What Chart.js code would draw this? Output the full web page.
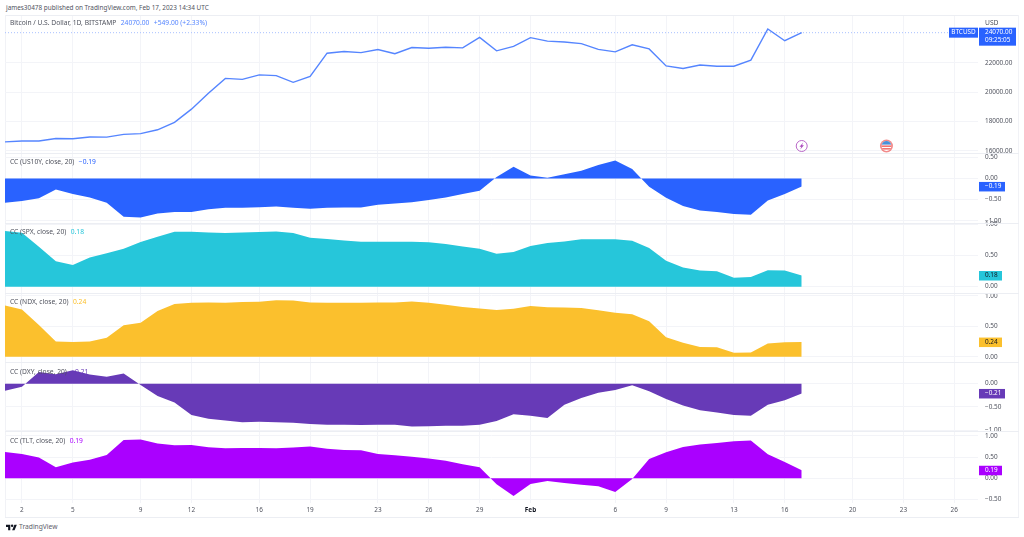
<!DOCTYPE html>
<html>
<head>
<meta charset="utf-8">
<title>BTCUSD correlation panes</title>
<script src="https://cdn.jsdelivr.net/npm/chart.js@4"></script>
<style>
  html, body { margin: 0; padding: 0; background: #fff; overflow: hidden; }
  #page { position: relative; width: 1024px; height: 537px; font-family: "Noto Sans", sans-serif; color: #50535e; }
  #page canvas { position: absolute; left: 5px; }
  .txt { position: absolute; white-space: nowrap; font-size: 6.7px; line-height: 10px; }
  .txt span { margin-left: 4.5px; }
  .sep { position: absolute; left: 5px; width: 1014px; height: 1px; background: #eceef3; }
  .edge { position: absolute; top: 15px; width: 1px; height: 502px; background: #f1f2f6; }
</style>
</head>
<body>
<div id="page">
  <div class="txt" style="left:6px;top:3px;font-size:6.4px">james30478 published on TradingView.com, Feb 17, 2023 14:34 UTC</div>
  <div class="sep" style="top:15px"></div>
  <div class="sep" style="top:517px"></div>
  <div class="edge" style="left:5px"></div>
  <div class="edge" style="left:1018px"></div>
  <svg style="position:absolute;left:6px;top:523.5px" width="11" height="7" viewBox="0 3 36 20"><path fill="#131722" d="M14 22H7V11H0V4h14v18zM28 22h-8l7.5-18h8L28 22z"/><circle fill="#131722" cx="20" cy="7" r="4"/></svg>
  <div class="txt" style="left:19px;top:522px;color:#5d606b">TradingView</div>
</div>

<script>
// first entry of every series is Jan 1 2023, one close per calendar day up to Feb 17
const btcClose = [16615, 16672, 16675, 16850, 16830, 16950, 16943, 17127, 17180, 17440, 17945, 18850,
  19930, 20950, 20880, 21190, 21140, 20680, 21080, 22670, 22780, 22710, 22920, 22630, 23060, 23010,
  23080, 23030, 23750, 22830, 23130, 23730, 23490, 23430, 23320, 22930, 22760, 23240, 22960, 21800,
  21630, 21860, 21780, 21780, 22200, 24320, 23520, 24070];
const ccUs10y = [-0.575, -0.535, -0.47, -0.26, -0.37, -0.45, -0.575, -0.905, -0.92, -0.83, -0.795, -0.795,
  -0.725, -0.69, -0.69, -0.68, -0.66, -0.69, -0.715, -0.69, -0.685, -0.685, -0.62, -0.59, -0.56, -0.51,
  -0.45, -0.37, -0.29, 0.03, 0.275, 0.07, 0.015, 0.10, 0.18, 0.315, 0.42, 0.22, -0.195, -0.455,
  -0.65, -0.755, -0.795, -0.84, -0.86, -0.52, -0.37, -0.19];
const ccSpx = [0.90, 0.87, 0.645, 0.41, 0.35, 0.47, 0.54, 0.61, 0.72, 0.805, 0.885, 0.885,
  0.875, 0.865, 0.875, 0.88, 0.89, 0.865, 0.79, 0.77, 0.745, 0.725, 0.725, 0.725, 0.725, 0.715,
  0.69, 0.65, 0.61, 0.53, 0.56, 0.655, 0.705, 0.73, 0.765, 0.765, 0.765, 0.74, 0.625, 0.42,
  0.31, 0.26, 0.25, 0.145, 0.155, 0.265, 0.26, 0.18];
const ccNdx = [0.84, 0.775, 0.52, 0.25, 0.24, 0.25, 0.31, 0.515, 0.555, 0.75, 0.865, 0.885,
  0.89, 0.885, 0.895, 0.90, 0.925, 0.92, 0.89, 0.885, 0.885, 0.885, 0.89, 0.89, 0.905, 0.885,
  0.85, 0.815, 0.79, 0.765, 0.785, 0.83, 0.81, 0.805, 0.80, 0.76, 0.72, 0.695, 0.58, 0.32,
  0.23, 0.16, 0.155, 0.065, 0.07, 0.215, 0.235, 0.24];
const ccDxy = [-0.15, -0.065, 0.25, 0.205, 0.29, 0.195, 0.15, 0.22, -0.03, -0.265, -0.405, -0.67,
  -0.755, -0.79, -0.83, -0.82, -0.83, -0.84, -0.865, -0.88, -0.88, -0.885, -0.88, -0.88, -0.92, -0.915,
  -0.905, -0.905, -0.88, -0.80, -0.655, -0.69, -0.735, -0.45, -0.305, -0.195, -0.135, -0.035, -0.165, -0.33,
  -0.47, -0.57, -0.62, -0.67, -0.69, -0.455, -0.355, -0.21];
const ccTlt = [0.62, 0.575, 0.49, 0.26, 0.37, 0.435, 0.55, 0.905, 0.915, 0.82, 0.78, 0.785,
  0.73, 0.71, 0.715, 0.715, 0.71, 0.725, 0.75, 0.695, 0.67, 0.66, 0.575, 0.545, 0.51, 0.47,
  0.415, 0.33, 0.26, -0.14, -0.415, -0.135, -0.065, -0.11, -0.15, -0.19, -0.325, -0.015, 0.455, 0.615,
  0.74, 0.795, 0.835, 0.875, 0.89, 0.565, 0.385, 0.19];

// day offsets from Jan 1 and what the time axis prints there
const tickDays = [1, 4, 8, 11, 15, 18, 22, 25, 28, 31, 36, 39, 43, 46, 50, 53, 56];
const tickLabels = ["2", "5", "9", "12", "16", "19", "23", "26", "29", "Feb", "6", "9", "13", "16", "20", "23", "26"];
const btcTicks = [16000, 18000, 20000, 22000];

const FONT = "Noto Sans";
const FEB = 31;
const LAST_DAY = 57.4;
const PAD = 8;
const TICK_COLOR = "#50535e";
const GRID_COLOR = "#f3f4f8";

const panes = [
  { top: 16, bottom: 153, min: 15857, max: 25208, ticks: btcTicks, values: btcClose, color: "#5585ff", line: true },
  { top: 154, bottom: 223, min: -1.052, max: 0.575, ticks: [-1, -0.5, 0, 0.5], values: ccUs10y, color: "#2962ff",
    name: "CC (US10Y, close, 20)", legendTop: 157, tagText: "#fff", tagWidth: 26 },
  { top: 224, bottom: 293, min: -0.102, max: 1.011, ticks: [0, 0.5, 1], values: ccSpx, color: "#26c6da",
    name: "CC (SPX, close, 20)", legendTop: 227, tagText: "#131722", tagWidth: 23 },
  { top: 294, bottom: 362, min: -0.087, max: 1.028, ticks: [0, 0.5, 1], values: ccNdx, color: "#fbc02d",
    name: "CC (NDX, close, 20)", legendTop: 297, tagText: "#131722", tagWidth: 23 },
  { top: 363, bottom: 431, min: -1.016, max: 0.444, ticks: [-1, -0.5, 0], values: ccDxy, color: "#673ab7",
    name: "CC (DXY, close, 20)", legendTop: 366.5, tagText: "#fff", tagWidth: 26 },
  { top: 432, bottom: 503, min: -0.582, max: 1.092, ticks: [-0.5, 0, 0.5, 1], values: ccTlt, color: "#aa00ff",
    name: "CC (TLT, close, 20)", legendTop: 436, tagText: "#fff", tagWidth: 23, axis: true },
];

const fmt = (v, digits) => v.toFixed(digits).replace("-", "\u2212");

function tag(ctx, x, y, w, h, color) {
  ctx.fillStyle = color;
  ctx.fillRect(x, y, w, h);
}

// value tags in the price scale, placed from the last value of the series
const lastValueTag = {
  id: "lastValueTag",
  afterDraw(chart, args, opts) {
    if (!opts.pane) return;
    const p = opts.pane;
    const last = p.values[p.values.length - 1];
    const y = chart.scales.y.getPixelForValue(last);
    const left = chart.chartArea.right;
    const ctx = chart.ctx;
    ctx.save();
    ctx.font = "6.4px '" + FONT + "'";
    ctx.textBaseline = "middle";
    if (p.line) {
      tag(ctx, left - 29, y - 5, 29, 10, "#2962ff");
      tag(ctx, left + 1, y - 5, 37, 18, "#2962ff");
      ctx.fillStyle = "#fff";
      ctx.textAlign = "center";
      ctx.fillText("BTCUSD", left - 14.5, y);
      ctx.textAlign = "left";
      ctx.fillText(last.toFixed(2), left + 7, y);
      ctx.fillText("09:25:05", left + 7, y + 8);
    } else {
      tag(ctx, left + 1, y - 4.5, p.tagWidth, 9.5, p.color);
      ctx.fillStyle = p.tagText;
      ctx.textAlign = "left";
      ctx.fillText(fmt(last, 2), left + 7, y);
    }
    ctx.restore();
  },
};

// session markers on the price pane: a bolt and the US flag
const eventMarks = {
  id: "eventMarks",
  afterDraw(chart, args, opts) {
    if (!opts.pane || !opts.pane.line) return;
    const ctx = chart.ctx;
    const xs = chart.scales.x;
    const y = chart.chartArea.bottom - 7;
    const a = xs.getPixelForValue(47);
    const b = xs.getPixelForValue(52);
    ctx.save();
    ctx.strokeStyle = "#ba68c8";
    ctx.lineWidth = 1;
    ctx.beginPath();
    ctx.arc(a, y, 5.5, 0, Math.PI * 2);
    ctx.stroke();
    ctx.fillStyle = "#ab47bc";
    ctx.beginPath();
    ctx.moveTo(a + 1.5, y - 3.6);
    ctx.lineTo(a - 2.2, y + 0.7);
    ctx.lineTo(a - 0.3, y + 0.7);
    ctx.lineTo(a - 1.5, y + 3.6);
    ctx.lineTo(a + 2.2, y - 0.7);
    ctx.lineTo(a + 0.3, y - 0.7);
    ctx.closePath();
    ctx.fill();

    ctx.fillStyle = "#f28b8b";
    ctx.beginPath();
    ctx.arc(b, y, 6.5, 0, Math.PI * 2);
    ctx.fill();
    ctx.beginPath();
    ctx.arc(b, y, 5, 0, Math.PI * 2);
    ctx.clip();
    ctx.fillStyle = "#fff";
    ctx.fillRect(b - 5, y - 5, 10, 10);
    ctx.fillStyle = "#ef5350";
    ctx.fillRect(b - 5, y - 0.5, 10, 1.3);
    ctx.fillRect(b - 5, y + 2.2, 10, 1.3);
    ctx.fillStyle = "#4a90d9";
    ctx.fillRect(b - 5, y - 5, 10, 3.6);
    ctx.restore();
  },
};

function addText(left, top, html, style) {
  const el = document.createElement("div");
  el.className = "txt";
  el.style.left = left + "px";
  el.style.top = top + "px";
  el.style.cssText += style || "";
  el.innerHTML = html;
  document.getElementById("page").appendChild(el);
}

function drawPane(p) {
  const canvas = document.createElement("canvas");
  const height = p.bottom - p.top + PAD * 2 + (p.axis ? 14 : 0);
  canvas.width = 1014;
  canvas.height = height;
  canvas.style.top = (p.top - PAD) + "px";
  document.getElementById("page").appendChild(canvas);

  const points = p.values.map((y, i) => ({ x: i, y }));
  const last = p.values[p.values.length - 1];
  const datasets = p.line
    ? [
        { data: points, borderColor: p.color, borderWidth: 1.4, pointRadius: 0, tension: 0 },
        { data: [{ x: 0, y: last }, { x: LAST_DAY, y: last }], borderColor: "#a9c0ff", borderWidth: 1,
          borderDash: [1, 2], pointRadius: 0 },
      ]
    : [
        { data: points, borderWidth: 0, pointRadius: 0, tension: 0, backgroundColor: p.color,
          fill: { target: { value: 0 } } },
      ];

  new Chart(canvas, {
    type: "line",
    data: { datasets },
    plugins: [lastValueTag, eventMarks],
    options: {
      responsive: false,
      animation: false,
      events: [],
      layout: { padding: { top: PAD, bottom: PAD, left: 0, right: 0 } },
      plugins: {
        legend: { display: false },
        tooltip: { enabled: false },
        lastValueTag: { pane: p },
        eventMarks: { pane: p },
      },
      scales: {
        x: {
          type: "linear",
          min: 0,
          max: LAST_DAY,
          border: { display: false },
          grid: { color: GRID_COLOR, drawTicks: false },
          afterBuildTicks: (scale) => { scale.ticks = tickDays.map((value) => ({ value })); },
          afterFit: (scale) => {
            scale.height = p.axis ? 14 : 0;
            scale.paddingLeft = scale.paddingRight = 0;
          },
          ticks: {
            display: !!p.axis,
            autoSkip: false,
            maxRotation: 0,
            padding: 3,
            color: (c) => (c.tick && c.tick.value === FEB ? "#131722" : TICK_COLOR),
            font: (c) => ({ family: FONT, size: 6.4, weight: c.tick && c.tick.value === FEB ? "bold" : "normal" }),
            callback: (v) => tickLabels[tickDays.indexOf(v)],
          },
        },
        y: {
          position: "right",
          min: p.min,
          max: p.max,
          border: { display: false },
          grid: { color: GRID_COLOR, drawTicks: false },
          afterBuildTicks: (scale) => { scale.ticks = p.ticks.map((value) => ({ value })); },
          // no extra room for the outer tick labels, they may run into the next pane
          afterFit: (scale) => {
            scale.width = 41;
            scale.paddingTop = scale.paddingBottom = 0;
          },
          ticks: {
            padding: 7,
            color: TICK_COLOR,
            font: { family: FONT, size: 6.4 },
            callback: (v) => fmt(v, 2),
          },
        },
      },
    },
  });

  if (p.name) {
    addText(10, p.legendTop, p.name + '<span style="color:' + p.color + '">' + fmt(last, 2) + "</span>");
  }
}

panes.forEach(drawPane);

// separators sit above the pane canvases
[153, 223, 293, 362, 431].forEach((y) => {
  const el = document.createElement("div");
  el.className = "sep";
  el.style.top = y + "px";
  document.getElementById("page").appendChild(el);
});

addText(10, 18, 'Bitcoin / U.S. Dollar, 1D, BITSTAMP<span style="color:#5585ff">24070.00</span><span style="color:#5585ff">+549.00 (+2.33%)</span>');
addText(985, 17.5, "USD");
</script>
</body>
</html>
